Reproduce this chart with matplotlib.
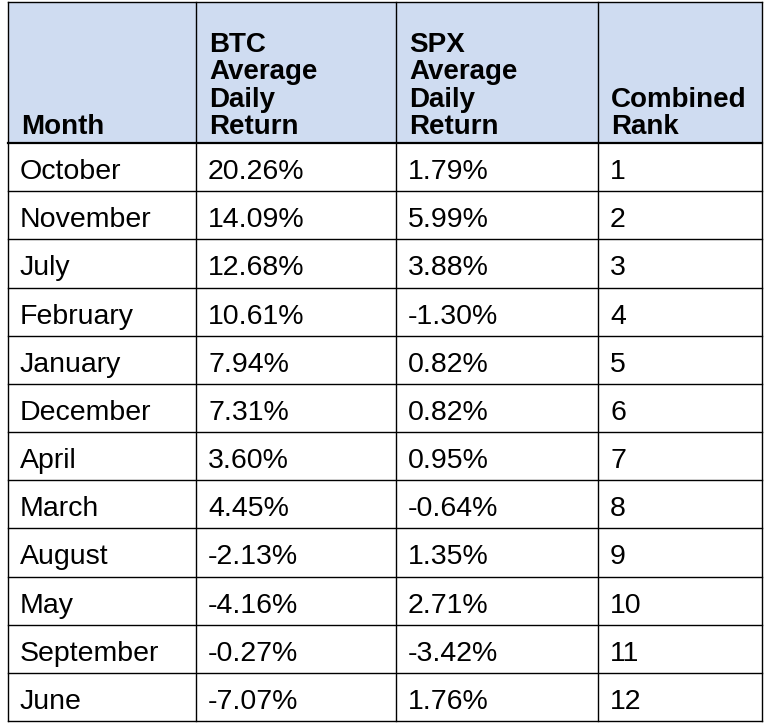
import matplotlib.pyplot as plt
from matplotlib.patches import Rectangle

plt.rcParams['font.family'] = ['Liberation Sans', 'DejaVu Sans']

headers = ["Month", "BTC\nAverage\nDaily\nReturn", "SPX\nAverage\nDaily\nReturn", "Combined\nRank"]
months = ["October", "November", "July", "February", "January", "December",
          "April", "March", "August", "May", "September", "June"]
btc = ["20.26%", "14.09%", "12.68%", "10.61%", "7.94%", "7.31%",
       "3.60%", "4.45%", "-2.13%", "-4.16%", "-0.27%", "-7.07%"]
spx = ["1.79%", "5.99%", "3.88%", "-1.30%", "0.82%", "0.82%",
       "0.95%", "-0.64%", "1.35%", "2.71%", "-3.42%", "1.76%"]
rank = [str(i) for i in range(1, 13)]

col_x = [8, 196, 396, 598, 762]
top, head_bot, bottom = 2, 143, 721
row_h = (bottom - head_bot) / len(months)

fig = plt.figure(figsize=(7.68, 7.25), dpi=100)
ax = fig.add_axes([0, 0, 1, 1])
ax.set_xlim(0, 768)
ax.set_ylim(725, 0)
ax.axis('off')

ax.add_patch(Rectangle((col_x[0], top), col_x[-1] - col_x[0], head_bot - top,
                       facecolor='#cfdcf1', edgecolor='none'))

for x in col_x:
    ax.plot([x, x], [top, bottom], color='black', lw=1)
ax.plot([col_x[0], col_x[-1]], [top, top], color='black', lw=1)
ax.plot([col_x[0], col_x[-1]], [head_bot, head_bot], color='black', lw=1.6)
for i in range(1, len(months) + 1):
    y = head_bot + i * row_h
    ax.plot([col_x[0], col_x[-1]], [y, y], color='black', lw=1)

for j, h in enumerate(headers):
    ax.text(col_x[j] + 13, head_bot - 3, h, fontsize=20, fontweight='bold',
            va='bottom', ha='left', linespacing=1.07)

for i, row in enumerate(zip(months, btc, spx, rank)):
    yc = head_bot + (i + 0.5) * row_h
    for j, val in enumerate(row):
        ax.text(col_x[j] + 12, yc + 5, val, fontsize=20.5, va='center', ha='left')

fig.savefig('out.png', dpi=100, facecolor='white')
